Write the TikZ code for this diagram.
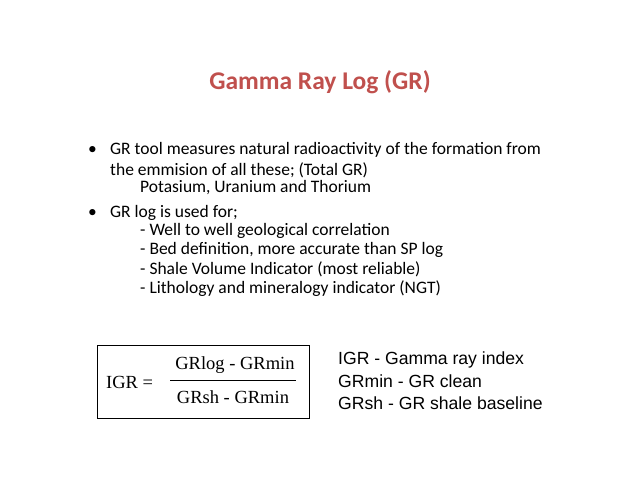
\documentclass[tikz,border=0pt]{standalone}
\usepackage{fontspec}
\setmainfont{Carlito}
\newfontfamily\serifb{Liberation Serif}
\newfontfamily\sansb{Liberation Sans}
\definecolor{titlered}{HTML}{C0504D}
\begin{document}
\begin{tikzpicture}[x=1pt,y=-1pt,
  body/.style={anchor=west,inner sep=0pt,font=\fontsize{17.5}{20}\selectfont},
  rt/.style={anchor=west,inner sep=0pt,font=\sansb\fontsize{17.6}{19}\selectfont},
  fx/.style={inner sep=0pt,font=\serifb\fontsize{18.5}{20}\selectfont}]
\useasboundingbox (0,0) rectangle (638,493);
\node[inner sep=0pt,text=titlered,font=\bfseries\fontsize{25.5}{30}\selectfont] (title) at (320,82) {Gamma Ray Log (GR)};
\node[body] (b1) at (88,150) {•};
\node[body] (l1) at (110,150) {GR tool measures natural radioactivity of the formation from};
\node[body] (l2) at (110,170) {the emmision of all these; (Total GR)};
\node[body] (l3) at (140,188) {Potasium, Uranium and Thorium};
\node[body] (b2) at (88,213) {•};
\node[body] (l4) at (110,213) {GR log is used for;};
\node[body] (l5) at (140,231) {- Well to well geological correlation};
\node[body] (l6) at (140,250) {- Bed definition, more accurate than SP log};
\node[body] (l7) at (140,269) {- Shale Volume Indicator (most reliable)};
\node[body] (l8) at (140,289) {- Lithology and mineralogy indicator (NGT)};
\node[draw,line width=0.8pt,minimum width=212pt,minimum height=73pt,inner sep=0pt] (box) at (203,381.5) {};
\node[fx,anchor=west] (igr) at (106,382) {IGR =};
\node[fx] (num) at (235,365) {GRlog - GRmin};
\node[fx] (den) at (233,397) {GRsh - GRmin};
\draw[line width=0.6pt] (170,380) -- (296,380);
\node[rt] (r1) at (338,360) {IGR - Gamma ray index};
\node[rt] (r2) at (338,381) {GRmin - GR clean};
\node[rt] (r3) at (338,403) {GRsh - GR shale baseline};
\end{tikzpicture}
\end{document}
